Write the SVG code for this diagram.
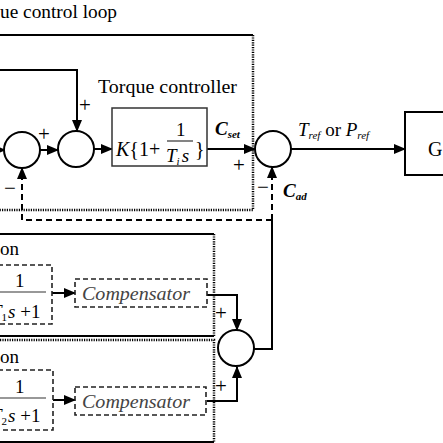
<svg xmlns="http://www.w3.org/2000/svg" width="443" height="443" viewBox="0 0 443 443">
<style>
text{font-family:"Liberation Serif","Times New Roman",serif;fill:#000}
.it{font-style:italic}
.ln{fill:none;stroke:#000;stroke-width:2}
.dash{fill:none;stroke:#000;stroke-width:2;stroke-dasharray:6 4}
.dot{fill:none;stroke:#000;stroke-width:2.5;stroke-dasharray:1.2 1.2}
.sum{fill:#fff;stroke:#000;stroke-width:2}
.dbox{fill:none;stroke:#222;stroke-width:1.6;stroke-dasharray:5 3}
.comp{font-style:italic;fill:#444;font-size:19px}
</style>
<defs>
<marker id="ah" markerWidth="12" markerHeight="10" refX="11" refY="5" orient="auto" markerUnits="userSpaceOnUse">
<path d="M0,0 L12,5 L0,10 Z" fill="#000"/>
</marker>
</defs>

<g id="regions">
<path class="ln" d="M0,35 H253"/>
<path class="dot" d="M253,35 V210 H0"/>
<path class="ln" d="M0,234 H214"/>
<path class="dot" d="M214,234 V336"/>
<path class="ln" d="M214,336 H0"/>
<path class="dot" d="M0,340 H214 V442"/>
<path class="ln" d="M214,442 H0"/>
<text x="0" y="18" font-size="19" textLength="117" lengthAdjust="spacingAndGlyphs">ue control loop</text>
<text x="0" y="255" font-size="19">on</text>
<text x="0" y="363" font-size="19">on</text>
</g>

<g id="connectors">
<path class="ln" d="M0,150 H5" marker-end="url(#ah)"/>
<path class="ln" d="M40,150 H58" marker-end="url(#ah)"/>
<path class="ln" d="M0,70 H77 V131" marker-end="url(#ah)"/>
<path class="ln" d="M94,149 H112" marker-end="url(#ah)"/>
<path class="ln" d="M207,149 H255" marker-end="url(#ah)"/>
<path class="ln" d="M291,149 H405" marker-end="url(#ah)"/>
<path class="dash" d="M272,220 H22 V170"/>
<path class="ln" d="M22,178 V168" marker-end="url(#ah)"/>
<path class="dash" d="M272,220 V170"/>
<path class="ln" d="M272,178 V167" marker-end="url(#ah)"/>
<path class="ln" d="M254,349 H272 V220"/>
<path class="ln" d="M52,293 H75" marker-end="url(#ah)"/>
<path class="ln" d="M207,295 H237 V330" marker-end="url(#ah)"/>
<path class="ln" d="M53,400 H75" marker-end="url(#ah)"/>
<path class="ln" d="M207,401 H237 V367" marker-end="url(#ah)"/>
</g>

<g id="sum1"><circle class="sum" cx="22" cy="150" r="18"/></g>
<g id="sum2"><circle class="sum" cx="76" cy="149" r="18"/></g>
<g id="sum3"><circle class="sum" cx="273" cy="149" r="18"/></g>
<g id="sum4"><circle class="sum" cx="236" cy="348" r="18"/></g>

<g id="signs" font-size="21">
<text x="79" y="112">+</text>
<text x="38" y="141">+</text>
<text x="4" y="195">−</text>
<text x="233" y="172">+</text>
<text x="257" y="194">−</text>
<text x="215" y="320">+</text>
<text x="215" y="393">+</text>
</g>

<g id="torque_controller">
<text x="98" y="93" font-size="19" textLength="139" lengthAdjust="spacingAndGlyphs">Torque controller</text>
<rect x="112" y="108" width="95" height="58" fill="#fff" stroke="#333" stroke-width="1.5"/>
<text x="116" y="156" font-size="20" fill="#333"><tspan class="it">K</tspan>{1+</text>
<text x="176" y="136" font-size="19" fill="#333">1</text>
<line x1="167" y1="141" x2="193" y2="141" stroke="#333" stroke-width="1.2"/>
<text x="166" y="162" font-size="19" class="it" fill="#333">T<tspan font-size="11" dy="3">i</tspan><tspan dy="-3" dx="2">s</tspan></text>
<text x="195" y="156" font-size="20" fill="#333">}</text>
</g>

<g id="labels">
<text x="215" y="135" font-size="19" class="it" font-weight="bold">C<tspan font-size="11" dy="3">set</tspan></text>
<text x="283" y="197" font-size="19" class="it" font-weight="bold">C<tspan font-size="11" dy="3">ad</tspan></text>
<text x="298" y="136" font-size="19"><tspan class="it">T</tspan><tspan class="it" font-size="11" dy="3">ref</tspan><tspan dy="-3"> or </tspan><tspan class="it">P</tspan><tspan class="it" font-size="11" dy="3">ref</tspan></text>
</g>

<g id="G_block">
<rect x="405" y="112" width="50" height="63" fill="#fff" stroke="#000" stroke-width="2"/>
<text x="428" y="156" font-size="20" fill="#888">G</text>
</g>

<g id="filter1">
<rect class="dbox" x="-10" y="265" width="62" height="59"/>
<text x="15" y="287" font-size="19" fill="#333">1</text>
<line x1="0" y1="292" x2="46" y2="292" stroke="#333" stroke-width="1.2"/>
<text x="-9" y="318" font-size="19" class="it" fill="#333">T<tspan font-size="11" dy="3" font-style="normal">1</tspan><tspan dy="-3" dx="1">s</tspan><tspan font-style="normal"> +1</tspan></text>
</g>
<g id="compensator1">
<rect class="dbox" x="75" y="279" width="132" height="28"/>
<text class="comp" x="82" y="300" textLength="108" lengthAdjust="spacingAndGlyphs">Compensator</text>
</g>

<g id="filter2">
<rect class="dbox" x="-10" y="370" width="63" height="60"/>
<text x="15" y="393" font-size="19" fill="#333">1</text>
<line x1="0" y1="398" x2="46" y2="398" stroke="#333" stroke-width="1.2"/>
<text x="-9" y="422" font-size="19" class="it" fill="#333">T<tspan font-size="11" dy="3" font-style="normal">2</tspan><tspan dy="-3" dx="1">s</tspan><tspan font-style="normal"> +1</tspan></text>
</g>
<g id="compensator2">
<rect class="dbox" x="75" y="387" width="131" height="28"/>
<text class="comp" x="82" y="408" textLength="108" lengthAdjust="spacingAndGlyphs">Compensator</text>
</g>
</svg>
